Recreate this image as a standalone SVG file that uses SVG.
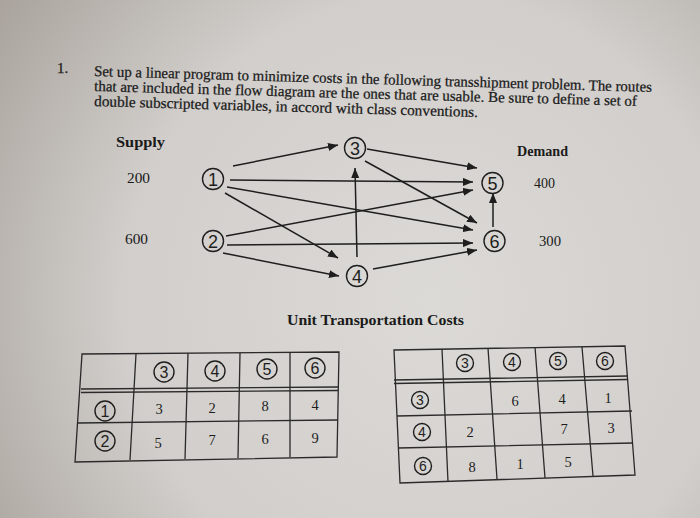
<svg xmlns="http://www.w3.org/2000/svg" width="700" height="518" viewBox="0 0 700 518">
<defs>
<radialGradient id="bg" cx="430" cy="300" r="560" gradientUnits="userSpaceOnUse">
<stop offset="0" stop-color="#dcdad6"/>
<stop offset="0.55" stop-color="#d1cecb"/>
<stop offset="1" stop-color="#a39c95"/>
</radialGradient>
<marker id="ah" markerWidth="10" markerHeight="8" refX="10" refY="4" orient="auto" markerUnits="userSpaceOnUse">
<path d="M0,0 L10,4 L0,8 z" fill="#1e1e1e"/>
</marker>
<style>
.t{font-family:"Liberation Serif","Times New Roman",serif;fill:#1a1a1a;stroke:#1a1a1a;stroke-width:0.25;font-size:15px}
.b{font-family:"Liberation Serif","Times New Roman",serif;fill:#1a1a1a;font-weight:bold;font-size:15px}
.v{font-family:"Liberation Serif","Times New Roman",serif;fill:#1a1a1a;font-size:14.5px}
.n{font-family:"Liberation Serif","Times New Roman",serif;fill:#1e1e1e;font-size:14.5px;text-anchor:middle}
.c{fill:none;stroke:#1e1e1e;stroke-width:1.4}
.d{font-family:"Liberation Sans",Arial,sans-serif;fill:#1e1e1e;text-anchor:middle}
.e{fill:none;stroke:#1e1e1e;stroke-width:1.5;marker-end:url(#ah)}
.g{fill:none;stroke:#2a2a2a;stroke-width:1.3}
</style>
</defs>
<rect width="700" height="518" fill="url(#bg)"/>

<g id="question">
<text class="t" x="57" y="73">1.</text>
<text class="t" x="94" y="76" transform="rotate(1.64 94 76)" textLength="558" lengthAdjust="spacingAndGlyphs">Set up a linear program to minimize costs in the following transshipment problem.  The routes</text>
<text class="t" x="94" y="91" transform="rotate(1.58 94 91)" textLength="543" lengthAdjust="spacingAndGlyphs">that are included in the flow diagram are the ones that are usable.  Be sure to define a set of</text>
<text class="t" x="94" y="106" transform="rotate(1.64 94 106)" textLength="384" lengthAdjust="spacingAndGlyphs">double subscripted variables, in accord with class conventions.</text>
</g>

<g id="labels">
<text class="b" x="116" y="147" textLength="49" lengthAdjust="spacingAndGlyphs">Supply</text>
<text class="b" x="517" y="156" textLength="51" lengthAdjust="spacingAndGlyphs">Demand</text>
<text class="v" x="127" y="183" textLength="23" lengthAdjust="spacingAndGlyphs">200</text>
<text class="v" x="125" y="244" textLength="23" lengthAdjust="spacingAndGlyphs">600</text>
<text class="v" x="534" y="188" textLength="21" lengthAdjust="spacingAndGlyphs">400</text>
<text class="v" x="539" y="246" textLength="22" lengthAdjust="spacingAndGlyphs">300</text>
<text class="b" x="287" y="325" textLength="177" lengthAdjust="spacingAndGlyphs">Unit Transportation Costs</text>
</g>

<g id="connectors">
<line class="e" x1="233" y1="166" x2="338" y2="145"/>
<line class="e" x1="230" y1="180" x2="473" y2="182"/>
<line class="e" x1="227" y1="187" x2="473" y2="230"/>
<line class="e" x1="225" y1="193" x2="338" y2="258"/>
<line class="e" x1="226" y1="236" x2="473" y2="190"/>
<line class="e" x1="227" y1="245" x2="473" y2="243"/>
<line class="e" x1="223" y1="253" x2="339" y2="276"/>
<line class="e" x1="357" y1="257" x2="355" y2="168"/>
<line class="e" x1="367" y1="149" x2="477" y2="168"/>
<line class="e" x1="365" y1="161" x2="477" y2="223"/>
<line class="e" x1="373" y1="269" x2="477" y2="250"/>
<line class="e" x1="493" y1="227" x2="493" y2="193"/>
</g>

<g id="node1"><circle class="c" cx="213" cy="179" r="10.5"/><text class="d" x="213" y="185.5" font-size="18">1</text></g>
<g id="node2"><circle class="c" cx="213" cy="241" r="10.5"/><text class="d" x="213" y="247.5" font-size="18">2</text></g>
<g id="node3"><circle class="c" cx="355" cy="148" r="10.5"/><text class="d" x="355" y="154.5" font-size="18">3</text></g>
<g id="node4"><circle class="c" cx="357" cy="276" r="10.5"/><text class="d" x="357" y="282.5" font-size="18">4</text></g>
<g id="node5"><circle class="c" cx="492.5" cy="183" r="10.5"/><text class="d" x="492.5" y="189.5" font-size="18">5</text></g>
<g id="node6"><circle class="c" cx="494.5" cy="241" r="10.5"/><text class="d" x="494.5" y="247.5" font-size="18">6</text></g>

<g id="table-left">
<path class="g" d="M82,354 L339,352 L337,457 L75,462 Z"/>
<path class="g" d="M136,354 L130,460 M188,353 L185,459 M240,353 L238,458 M290,352 L290,457"/>
<path class="g" d="M81,389 L338,387 M81,392.5 L338,390.5 M78,423 L338,420"/>
<g>
<circle class="c" cx="164" cy="372" r="10"/><text class="d" x="164" y="377.5" font-size="16">3</text>
<circle class="c" cx="215" cy="371" r="10"/><text class="d" x="215" y="376.5" font-size="16">4</text>
<circle class="c" cx="267" cy="369" r="10"/><text class="d" x="267" y="374.5" font-size="16">5</text>
<circle class="c" cx="315" cy="368" r="10"/><text class="d" x="315" y="373.5" font-size="16">6</text>
<circle class="c" cx="105" cy="411" r="10"/><text class="d" x="105" y="416.5" font-size="16">1</text>
<circle class="c" cx="105" cy="441" r="10"/><text class="d" x="105" y="446.5" font-size="16">2</text>
</g>
<text class="n" x="159" y="414">3</text>
<text class="n" x="212" y="413">2</text>
<text class="n" x="265" y="411">8</text>
<text class="n" x="315" y="410">4</text>
<text class="n" x="158" y="448">5</text>
<text class="n" x="212" y="445">7</text>
<text class="n" x="265" y="444">6</text>
<text class="n" x="315" y="443">9</text>
</g>

<g id="table-right">
<path class="g" d="M394,350 L625,346 L635,475 L400,483 Z"/>
<path class="g" d="M442,349 L448,482 M488,348 L497,479 M535,347 L545,478 M582,347 L593,476"/>
<path class="g" d="M394,380 L628,376 M394,383.5 L628,379.5 M397,416 L632,411 M398,448 L633,443"/>
<g>
<circle class="c" cx="465" cy="363" r="8.5"/><text class="d" x="465" y="368" font-size="14">3</text>
<circle class="c" cx="512" cy="362" r="8.5"/><text class="d" x="512" y="367" font-size="14">4</text>
<circle class="c" cx="558" cy="361" r="8.5"/><text class="d" x="558" y="366" font-size="14">5</text>
<circle class="c" cx="605" cy="361" r="8.5"/><text class="d" x="605" y="366" font-size="14">6</text>
<circle class="c" cx="420" cy="400" r="8.5"/><text class="d" x="420" y="405" font-size="14">3</text>
<circle class="c" cx="422" cy="432" r="8.5"/><text class="d" x="422" y="437" font-size="14">4</text>
<circle class="c" cx="423" cy="466" r="8.5"/><text class="d" x="423" y="471" font-size="14">6</text>
</g>
<text class="n" x="515" y="406">6</text>
<text class="n" x="562" y="404">4</text>
<text class="n" x="608" y="403">1</text>
<text class="n" x="470" y="437">2</text>
<text class="n" x="564" y="434">7</text>
<text class="n" x="611" y="433">3</text>
<text class="n" x="472" y="472">8</text>
<text class="n" x="520" y="469">1</text>
<text class="n" x="568" y="467">5</text>
</g>
</svg>
